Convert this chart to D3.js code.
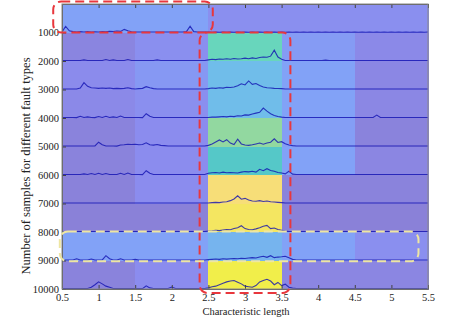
<!DOCTYPE html>
<html>
<head>
<meta charset="utf-8">
<script src="https://cdn.jsdelivr.net/npm/d3@7"></script>
<style>
  body { margin: 0; background: #fff; }
</style>
</head>
<body>
<svg id="chart"></svg>
<script>
// rows are sample counts (band ends), columns are characteristic length groups
const rowEnds = [1000, 2000, 3000, 4000, 5000, 6000, 7000, 8000, 9000, 10000];
const colStarts = [0.5, 1.5, 2.5, 3.5, 4.5];
const xTicks = [0.5, 1, 1.5, 2, 2.5, 3, 3.5, 4, 4.5, 5, 5.5];

// colour value per band and length group (0 = purple, 1 = yellow)
const cellValues = [
  [0.35, 0.35, 0.22, 0.22, 0.22],
  [0.08, 0.22, 0.70, 0.30, 0.15],
  [0.18, 0.28, 0.50, 0.35, 0.12],
  [0.15, 0.22, 0.50, 0.35, 0.12],
  [0.05, 0.20, 0.78, 0.32, 0.05],
  [0.05, 0.20, 0.62, 0.35, 0.10],
  [0.03, 0.20, 0.90, 0.05, 0.05],
  [0.02, 0.02, 0.95, 0.02, 0.02],
  [0.35, 0.35, 0.45, 0.35, 0.22],
  [0.05, 0.20, 1.00, 0.10, 0.10]
];

// spectrum amplitude per row, sampled every 0.05 from 0.5 to 5.5
const row1 = [20,210,60,30,20,30,20,30,20,25, 20,30,25,40,30,50,40,110,60,25, 20,15,20,15,20,15,20,15,20,15, 20,15,20,15,30,220,30,15,20,15, 15,10,15,10,15,10,15,10,15,10, 15,10,15,10,15,10,15,10,15,10, 15,10,15,10,15,10,15,10,15,10, 15,10,15,10,15,10,15,10,15,10, 15,10,15,10,15,10,15,10,15,10, 15,10,15,10,15,10,15,10,15,10, 15];
const row2 = [15,20,15,20,15,20,40,20,15,20, 15,20,50,20,40,20,15,20,50,20, 15,20,15,20,15,20,40,20,15,20, 15,20,15,20,15,20,15,20,15,20, 40,60,50,70,60,80,60,90,70,80, 100,80,110,90,120,140,130,170,380,140, 60,20,15,20,15,20,15,20,15,20, 15,20,30,20,15,20,15,20,15,20, 15,20,15,20,15,20,15,20,15,20, 15,20,15,20,15,20,15,20,15,20, 15];
const row3 = [15,20,15,20,15,50,240,110,60,50, 40,50,40,50,30,40,30,40,60,30, 20,30,40,100,60,30,20,15,20,15, 20,15,20,15,20,15,20,15,20,15, 30,50,40,60,50,80,70,90,130,200, 160,300,180,210,140,90,60,50,40,35, 30,20,15,20,15,20,15,20,15,20, 15,20,15,20,15,20,15,20,15,20, 15,20,15,20,15,20,15,20,15,20, 15,20,15,20,15,20,15,20,15,20, 15];
const row4 = [15,20,15,20,15,60,20,40,20,15, 50,20,60,20,40,20,70,20,15,20, 15,20,15,150,60,20,15,20,15,20, 15,20,15,20,15,20,15,20,15,20, 20,30,30,40,50,40,60,50,80,70, 110,100,140,170,200,350,240,150,90,50, 30,20,15,20,15,20,15,20,15,20, 15,20,15,20,15,20,15,20,15,20, 15,20,15,20,15,20,100,20,15,20, 15,20,15,20,15,20,15,20,15,20, 15];
const row5 = [15,20,15,20,15,20,15,20,15,20, 150,60,20,15,20,15,50,60,80,70, 80,60,70,130,60,50,70,40,30,20, 15,20,15,20,15,20,15,20,15,20, 40,90,160,230,160,240,120,70,260,90, 50,40,60,90,120,80,120,150,270,140, 170,100,50,30,20,15,20,15,20,15, 20,15,20,15,20,15,20,15,20,15, 20,15,20,15,20,15,20,15,20,15, 20,15,20,15,20,15,20,15,20,15, 20];
const row6 = [15,20,15,20,15,20,40,20,50,20, 60,20,50,20,15,20,60,20,70,20, 15,20,15,150,60,20,15,20,15,20, 15,20,15,20,15,20,15,20,15,20, 60,80,90,70,100,80,90,80,70,100, 120,110,130,100,200,150,220,160,130,90, 70,40,130,30,20,15,20,15,20,15, 20,15,20,15,20,15,20,15,20,15, 20,15,20,15,20,15,20,15,20,15, 20,15,20,15,20,15,20,15,20,15, 20];
const row7 = [15,20,15,20,15,20,15,20,15,20, 15,20,15,20,15,20,15,20,15,20, 15,20,15,20,15,20,15,20,15,20, 15,20,15,20,15,20,15,20,15,20, 20,30,40,30,50,60,100,160,270,150, 180,120,90,80,100,70,90,60,50,40, 30,20,15,20,15,20,15,20,15,20, 15,20,15,20,15,20,15,20,15,20, 15,20,15,20,15,20,15,20,15,20, 15,20,15,20,15,20,15,20,15,20, 15];
const row8 = [15,20,15,20,15,20,15,20,15,20, 15,20,15,20,15,20,15,20,15,20, 15,20,15,20,15,20,15,20,15,20, 15,20,15,20,15,20,15,20,15,20, 30,40,60,50,70,90,80,120,150,220, 120,90,80,110,150,200,230,120,140,90, 60,30,15,20,15,20,15,20,15,20, 15,20,15,20,15,20,15,20,15,20, 15,20,15,20,15,20,15,20,15,20, 15,20,15,20,15,20,15,20,15,20, 15];
const row9 = [15,20,15,20,60,20,15,20,50,20, 15,20,170,60,20,15,60,20,15,20, 40,20,15,20,15,20,15,20,15,20, 15,20,15,20,15,20,15,20,15,20, 30,40,50,40,60,50,60,70,60,80, 70,90,100,90,120,150,110,170,100,120, 130,150,100,40,20,15,20,15,20,15, 20,15,20,15,20,15,20,15,20,15, 20,15,20,15,20,15,20,15,20,15, 20,15,20,15,20,15,20,15,20,15, 20];
const row10 = [15,20,15,20,15,20,15,20,60,150, 250,180,100,60,20,15,20,15,20,15, 15,20,15,110,40,20,15,20,15,20, 70,20,15,20,15,20,15,20,15,20, 40,80,100,150,200,250,280,300,240,180, 100,80,60,120,250,300,340,280,150,230, 120,170,60,30,20,15,20,15,20,15, 20,15,20,15,20,15,20,15,20,15, 20,15,20,15,20,15,20,15,20,15, 20,15,20,15,20,15,20,15,20,15, 20];
const spectra = [row1, row2, row3, row4, row5, row6, row7, row8, row9, row10];

const serif = '"Liberation Serif", "DejaVu Serif", serif';

const margin = {top: 4, right: 46, bottom: 36, left: 62};
const width = 474 - margin.left - margin.right;
const height = 325 - margin.top - margin.bottom;

const svg = d3.select("#chart")
    .attr("width", 474)
    .attr("height", 325);

const g = svg.append("g")
    .attr("transform", `translate(${margin.left},${margin.top})`);

const x = d3.scaleLinear().domain([0.5, 5.5]).range([0, width]);
const y = d3.scaleLinear().domain([0, 10000]).range([0, height]);

const color = d3.scaleLinear()
    .domain([0, 0.2, 0.35, 0.5, 0.62, 0.7, 0.78, 0.9, 1])
    .range(["#8a80d6", "#8b8cee", "#82a2f7", "#70bdea", "#55c8c8", "#68d6bc", "#92d8a0", "#f7de78", "#f1ee4a"]);

// coloured cells
rowEnds.forEach((end, r) => {
    colStarts.forEach((c0, c) => {
        g.append("rect")
            .attr("x", x(c0))
            .attr("y", y(end - 1000))
            .attr("width", x(c0 + 1) - x(c0) + 0.6)
            .attr("height", y(end) - y(end - 1000) + 0.6)
            .attr("shape-rendering", "crispEdges")
            .attr("fill", color(cellValues[r][c]));
    });
});

// spectra lines, peaks rise above each band end
const xs = d3.range(101).map(i => 0.5 + i * 0.05);
const line = d3.line()
    .x((d, i) => x(xs[i]))
    .y(d => d);

spectra.forEach((vals, r) => {
    const base = rowEnds[r];
    g.append("path")
        .attr("d", line(vals.map(v => y(base - v))))
        .attr("fill", "none")
        .attr("stroke", "#1010b0")
        .attr("stroke-opacity", 0.8)
        .attr("stroke-width", 1.1);
});

// axes
const fmtX = d => String(d);
const xAxis = g.append("g")
    .attr("transform", `translate(0,${height})`)
    .call(d3.axisBottom(x).tickValues(xTicks).tickFormat(fmtX).tickSizeInner(-4).tickSizeOuter(0).tickPadding(5));
const xTop = g.append("g")
    .call(d3.axisTop(x).tickValues(xTicks).tickFormat("").tickSizeInner(-4).tickSizeOuter(0));
const yAxis = g.append("g")
    .call(d3.axisLeft(y).tickValues(rowEnds).tickFormat(d3.format("d")).tickSizeInner(-4).tickSizeOuter(0).tickPadding(3));

[xAxis, xTop, yAxis].forEach(a => {
    a.attr("font-family", null);
    a.selectAll("path").attr("stroke", "#555");
    a.selectAll("line").attr("stroke", "#444");
    a.selectAll("text")
        .style("font-family", serif)
        .style("font-size", "10.5px")
        .attr("fill", "#222");
});

g.append("rect")
    .attr("width", width)
    .attr("height", height)
    .attr("fill", "none")
    .attr("stroke", "#888")
    .attr("stroke-width", 1);

// highlight boxes (data coordinates)
const boxes = [
    {x0: 0.38, x1: 2.56, y0: -90, y1: 1000, stroke: "#e8373d"},
    {x0: 2.38, x1: 3.62, y0: 1000, y1: 10140, stroke: "#e8373d"},
    {x0: 0.47, x1: 5.37, y0: 7980, y1: 9030, stroke: "#eee6a2"}
];
boxes.forEach(b => {
    g.append("rect")
        .attr("x", x(b.x0))
        .attr("y", y(b.y0))
        .attr("width", x(b.x1) - x(b.x0))
        .attr("height", y(b.y1) - y(b.y0))
        .attr("rx", 8)
        .attr("fill", "none")
        .attr("stroke", b.stroke)
        .attr("stroke-width", 2)
        .attr("stroke-dasharray", "9,5");
});

// axis titles
svg.append("text")
    .attr("x", 246)
    .attr("y", 315)
    .attr("text-anchor", "middle")
    .style("font-family", serif)
    .style("font-size", "10.5px")
    .attr("fill", "#222")
    .text("Characteristic length");

svg.append("text")
    .attr("transform", "translate(30,166) rotate(-90)")
    .attr("text-anchor", "middle")
    .style("font-family", serif)
    .style("font-size", "12.5px")
    .attr("fill", "#222")
    .text("Number of samples for different fault types");
</script>
</body>
</html>
